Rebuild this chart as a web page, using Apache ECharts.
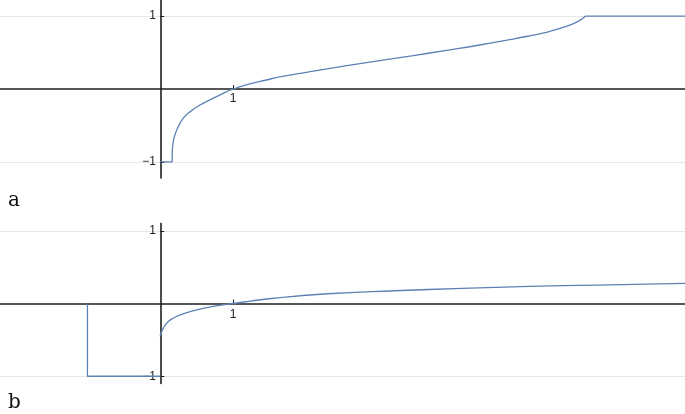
<!DOCTYPE html>
<html>
<head>
<meta charset="utf-8">
<script src="https://cdn.jsdelivr.net/npm/echarts@6.0.0/dist/echarts.min.js"></script>
<style>
	html, body { margin:0; padding:0; background:#fff; }
	#grafico { width:685px; height:414px; }
</style>
</head>
<body>
<div id="grafico"></div>
<script>
	// DADOS DO PAINEL A
	var aPisoX = [0, 0.163];
	var aPisoY = [-1, -1];
	var aCurvaX = [0.163, 0.164, 0.167, 0.178, 0.2, 0.247, 0.316, 0.41, 0.545, 0.68, 0.82, 1, 1.23, 1.44, 1.64, 1.92, 2.1, 2.56, 3.01, 3.47, 3.93, 4.38, 4.84, 5.1, 5.3, 5.45, 5.62, 5.75, 5.8, 5.836];
	var aCurvaY = [-1, -0.9, -0.81, -0.72, -0.63, -0.515, -0.4, -0.31, -0.22, -0.15, -0.08, 0, 0.07, 0.12, 0.165, 0.215, 0.245, 0.32, 0.39, 0.458, 0.53, 0.603, 0.685, 0.735, 0.776, 0.82, 0.877, 0.936, 0.97, 1];
	var aTetoX = [5.836, 7.2];
	var aTetoY = [1, 1];

	// DADOS DO PAINEL B - degrau e curva
	var bDegrauX = [-1, -1, 0];
	var bDegrauY = [0, -1, -1];
	var bCurvaX = [0, 0.005, 0.023, 0.069, 0.138, 0.276, 0.46, 0.69, 1, 1.24, 1.52, 2.3, 3.22, 4.14, 5.06, 5.98, 7.2];
	var bCurvaY = [-0.455, -0.42, -0.377, -0.294, -0.225, -0.156, -0.097, -0.046, 0, 0.033, 0.069, 0.134, 0.175, 0.207, 0.235, 0.254, 0.276];

	// ticks e rotulos
	var ticksX = [1];
	var ticksY = [-1, 1];
	var rotulos = ['a', 'b'];

	var pares = function(xs, ys){
		var out = [];
		for(var i = 0; i < xs.length; i++){ out.push([xs[i], ys[i]]); }
		return out;
	}

	var cor = '#5e81b5';
	var corEixo = '#1e1e1e';

	// o v6 deixa os rotulos na borda do grid, entao puxo com margin negativa
	var eixoX = function(idx, margem){
		return {
			type: 'value', gridIndex: idx, min: -2.2, max: 7.2,
			axisLine: { onZero: true, lineStyle: { color: corEixo, width: 1.6 } },
			axisTick: { show: true, inside: true, length: 4, customValues: ticksX, lineStyle: { color: corEixo } },
			axisLabel: { customValues: ticksX, margin: margem, color: '#222', fontSize: 12, fontFamily: 'Liberation Sans' },
			splitLine: { show: false }
		};
	}
	var eixoY = function(idx, lim){
		return {
			type: 'value', gridIndex: idx, min: -lim, max: lim,
			axisLine: { onZero: true, lineStyle: { color: corEixo, width: 1.6 } },
			axisTick: { show: true, inside: true, length: 4, customValues: ticksY, lineStyle: { color: corEixo } },
			axisLabel: {
				customValues: ticksY, margin: -156, color: '#222', fontSize: 12, fontFamily: 'Liberation Sans',
				formatter: function(v){ return v < 0 ? '\u2212' + (-v) : '' + v; }
			},
			splitLine: { show: true, lineStyle: { color: '#e6e6e6', width: 1 } }
		};
	}
	var serie = function(idx, dados, suave){
		return {
			type: 'line', xAxisIndex: idx, yAxisIndex: idx, data: dados,
			showSymbol: false, symbol: 'none', smooth: suave,
			lineStyle: { color: cor, width: 1.3 }, z: 3
		};
	}

	var myChart = echarts.init(document.getElementById('grafico'));
	var option = {
		animation: false,
		grid: [
			{ left: 0, right: 0, top: 0, height: 178, containLabel: false, outerBoundsMode: 'none' },
			{ left: 0, right: 0, top: 223.5, height: 160, containLabel: false, outerBoundsMode: 'none' }
		],
		xAxis: [ eixoX(0, -85), eixoX(1, -75) ],
		yAxis: [ eixoY(0, 1.22), eixoY(1, 1.1) ],
		series: [
			serie(0, pares(aPisoX, aPisoY), false),
			serie(0, pares(aCurvaX, aCurvaY), 0.5),
			serie(0, pares(aTetoX, aTetoY), false),
			serie(1, pares(bDegrauX, bDegrauY), false),
			serie(1, pares(bCurvaX, bCurvaY), 0.5)
		],
		graphic: [
			{ type: 'text', left: 8, top: 191, style: { text: rotulos[0], font: '20px "DejaVu Serif"', fill: '#111' } },
			{ type: 'text', left: 8, top: 393, style: { text: rotulos[1], font: '20px "DejaVu Serif"', fill: '#111' } }
		]
	};
	// aplico as opções no chart
	myChart.setOption(option);
</script>
</body>
</html>
